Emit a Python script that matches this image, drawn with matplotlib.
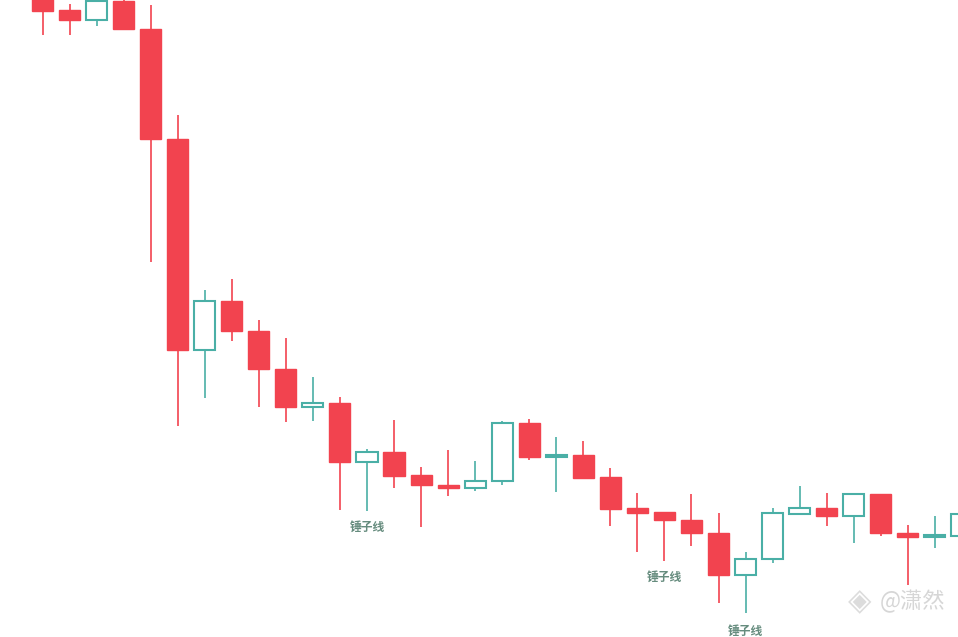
import matplotlib
matplotlib.use('Agg')
import matplotlib.pyplot as plt

# K线数据 (开, 高, 低, 收)
opens  = [64.7, 62.7, 61.7, 63.6, 60.8, 49.8, 28.7, 33.6, 30.6, 26.8, 23.0, 23.4,
          17.5, 18.5, 16.2, 15.2, 14.9, 15.6, 21.4, 18.0, 18.2, 16.0, 12.9, 12.5,
          11.7, 10.4, 6.2, 7.8, 12.3, 12.9, 12.1, 14.3, 10.4, 10.0, 10.1]
highs  = [65.7, 63.3, 64.2, 64.5, 63.2, 52.2, 34.7, 35.8, 31.7, 29.9, 26.0, 24.0,
          18.8, 21.7, 17.0, 18.7, 17.6, 21.6, 21.8, 20.0, 19.6, 16.9, 14.4, 12.5,
          14.3, 12.4, 8.5, 12.9, 15.1, 14.4, 14.3, 14.3, 11.2, 12.1, 12.3]
lows   = [60.2, 60.2, 61.1, 60.8, 37.5, 21.1, 23.9, 29.6, 23.0, 21.5, 21.6, 12.7,
          12.6, 14.9, 11.0, 14.1, 14.6, 15.2, 17.7, 14.5, 15.9, 11.1, 8.5, 7.6,
          9.1, 3.4, 2.4, 7.4, 12.2, 11.1, 9.4, 10.1, 5.2, 8.9, 10.1]
closes = [62.6, 61.7, 63.6, 60.8, 49.8, 28.7, 33.6, 30.6, 26.8, 23.0, 23.4, 17.5,
          18.5, 16.1, 15.2, 14.9, 15.6, 21.4, 18.0, 18.2, 15.9, 12.8, 12.4, 11.7,
          10.4, 6.2, 7.8, 12.4, 12.9, 12.1, 14.3, 10.4, 10.0, 10.2, 12.3]

# 锤子线标注: (K线序号, 文字位置)
hammer_idx = [12, 23, 26]
hammer_text_y = [11.0, 6.0, 0.6]
hammer_label = '锤子线'

RED = '#F2434F'
TEAL = '#4AAFA6'

plt.rcParams['font.family'] = ['Noto Sans CJK SC', 'DejaVu Sans']

fig = plt.figure(figsize=(9.58, 6.37), dpi=100)
ax = fig.add_axes([0, 0, 1, 1])

width = 0.78
for i, (o, h, l, c) in enumerate(zip(opens, highs, lows, closes)):
    up = c >= o
    color = TEAL if up else RED
    ax.vlines(i, l, h, color=color, linewidth=1.2, zorder=1)
    bottom = min(o, c)
    height = max(abs(c - o), 0.12)
    if up:
        ax.bar(i, height, width=width, bottom=bottom, facecolor='white',
               edgecolor=color, linewidth=1.5, zorder=2)
    else:
        ax.bar(i, height, width=width, bottom=bottom, facecolor=color,
               edgecolor=color, linewidth=1.0, zorder=2)

for idx, ty in zip(hammer_idx, hammer_text_y):
    ax.text(idx, ty, hammer_label, ha='center', va='center', fontsize=8.5,
            fontweight='bold', color='#668C7E')

ax.set_xlim(-1.572, 33.857)
ax.set_ylim(0, 63.7)
ax.axis('off')

# 水印
fig.text(0.897, 0.055, '◈', ha='center', va='center', fontsize=22,
         color='#dcdcdc', family=['DejaVu Sans'])
fig.text(0.953, 0.055, '@潇然', ha='center', va='center', fontsize=16,
         color='#d6d6d6')

fig.savefig('out.png', dpi=100, facecolor='white')
